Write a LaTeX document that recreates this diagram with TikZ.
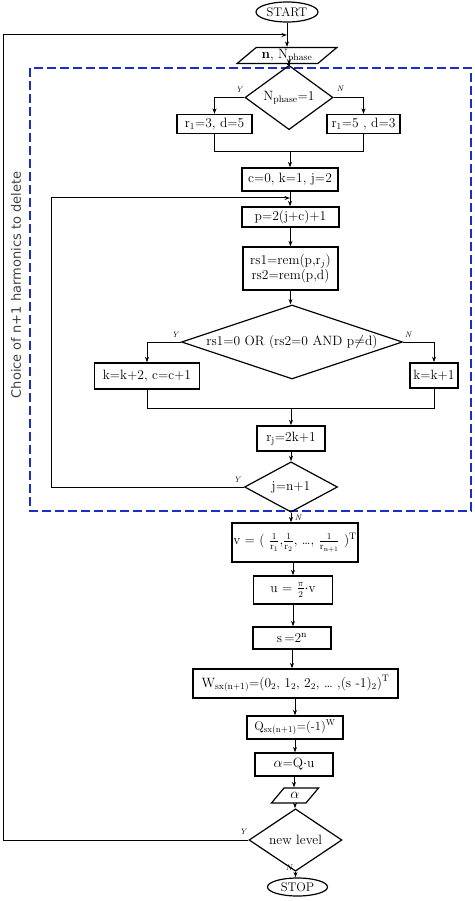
\documentclass[tikz,border=0pt]{standalone}
\usepackage{fontspec}
\newfontfamily\labelsans{DejaVu Sans}
\usetikzlibrary{shapes.geometric,arrows.meta}
\definecolor{dashblue}{RGB}{25,45,200}
\begin{document}
\begin{tikzpicture}[x=1pt,y=-1pt,
  every node/.style={font=\fontsize{13.5}{15}\selectfont},
  box/.style={draw,line width=1.3pt,rectangle,inner sep=1pt,align=center},
  dec/.style={draw,line width=1.2pt,diamond,inner sep=0pt},
  io/.style={draw,line width=1.2pt,trapezium,trapezium left angle=40,trapezium right angle=140,inner sep=0pt},
  term/.style={draw,line width=1.2pt,ellipse,inner sep=0pt,font=\fontsize{12.5}{14}\selectfont},
  flow/.style={line width=1pt,-{Stealth[length=5.5pt,width=4pt]}},
  conn/.style={line width=1pt},
  yn/.style={font=\itshape\fontsize{8}{9}\selectfont,inner sep=0pt}]
\useasboundingbox (0,0) rectangle (474,901);
% dashed frame and its label
\draw[dashblue,line width=1.6pt,dash pattern=on 9pt off 4pt] (30,68) rectangle (471,511);
\node[rotate=90,font=\labelsans\fontsize{13}{15}\selectfont,text=black!75] (lbl) at (16,285) {Choice of n+1 harmonics to delete};
% nodes
\node[term,minimum width=62,minimum height=20] (start) at (287,12) {START};
\node[io,minimum width=100,minimum height=15] (in1) at (287,55.5) {\textbf{n}, N$_{\mathrm{phase}}$};
\node[dec,minimum width=88,minimum height=35] (d1) at (289,97.5) {N$_{\mathrm{phase}}$=1};
\node[box,minimum width=75,minimum height=19] (b1) at (214.5,124) {r$_1$=3,\ d=5};
\node[box,minimum width=73,minimum height=19] (b2) at (363.5,124) {r$_1$=5 , d=3};
\node[box,minimum width=96,minimum height=23] (b3) at (290,179.5) {c=0, k=1, j=2};
\node[box,minimum width=97,minimum height=20] (b4) at (290.5,217) {p=2(j+c)+1};
\node[box,minimum width=95,minimum height=43] (b5) at (290.5,268.5) {rs1=rem(p,r$_j$)\\rs2=rem(p,d)};
\node[dec,minimum width=221,minimum height=74,shape aspect=3] (d2) at (292,342) {rs1=0 OR (rs2=0 AND p$\neq$d)};
\node[box,minimum width=105,minimum height=26] (b6) at (147,376) {k=k+2,\ c=c+1};
\node[box,minimum width=48,minimum height=25,line width=1.7pt] (b7) at (434,375.5) {k=k+1};
\node[box,minimum width=68,minimum height=25,line width=1.6pt] (b8) at (291,438.5) {r$_\mathrm{j}$=2k+1};
\node[dec,minimum width=93,minimum height=40] (d3) at (291,487) {j=n+1};
\node[box,minimum width=126,minimum height=39] (b9) at (295,542.5) {v = ( $\frac{1}{\mathrm{r}_1}$,$\frac{1}{\mathrm{r}_2}$, \dots , $\frac{1}{\mathrm{r}_{\mathrm{n+1}}}$ )$^{\mathrm{T}}$};
\node[box,minimum width=79,minimum height=28] (b10) at (293,590) {u = $\frac{\pi}{2}\cdot$v};
\node[box,minimum width=78,minimum height=22] (b11) at (292,638) {s\,=2$^{\mathrm{n}}$};
\node[box,minimum width=205,minimum height=29] (b12) at (295.5,683.5) {W$_{\mathrm{sx(n+1)}}$=(0$_2$, 1$_2$, 2$_2$, \dots\ ,(s -1)$_2$)$^{\mathrm{T}}$};
\node[box,minimum width=96,minimum height=23,font=\fontsize{12.5}{14}\selectfont] (b13) at (295,727.5) {Q$_{\mathrm{sx(n+1)}}$=(-1)$^{\mathrm{W}}$};
\node[box,minimum width=78,minimum height=23] (b14) at (294,764.5) {$\alpha$=Q$\cdot$u};
\node[io,minimum width=46,minimum height=15,trapezium left angle=50,trapezium right angle=130] (in2) at (295,795.5) {$\alpha$};
\node[dec,minimum width=93,minimum height=38] (d4) at (295.5,840) {new level};
\node[term,minimum width=60,minimum height=18] (stop) at (297.5,887) {STOP};
% Y / N labels
\node[yn] (y1) at (239,90) {Y};
\node[yn] (n1) at (340,89) {N};
\node[yn] (y2) at (175,335) {Y};
\node[yn] (n2) at (408,335) {N};
\node[yn] (y3) at (237,480) {Y};
\node[yn] (n3) at (298,518) {N};
\node[yn] (y4) at (243,832) {Y};
\node[yn] (n4) at (289,868) {N};
% coordinates for joins
\coordinate (op) at (287,35);
\coordinate (m1) at (290,152);
\coordinate (lp) at (290,198);
\coordinate (m2) at (291,408);
% connectors
\draw[flow] (start.south) -- (start.south |- in1.north);
\draw[flow] (d4.west) -| (3,35) -- (op);
\draw[flow] (in1.south) -- (in1.south -| d1.north) -- (d1.north);
\draw[flow] (d1.west) -| (b1.north);
\draw[flow] (d1.east) -| (b2.north);
\draw[conn] (b1.south) |- (b2.south |- m1) -- (b2.south);
\draw[flow] (m1) -- (m1 |- b3.north);
\draw[flow] (b3.south) -- (b3.south |- b4.north);
\draw[flow] (d3.west) -| (51,198) -- (lp);
\draw[flow] (b4.south) -- (b4.south |- b5.north);
\draw[flow] (b5.south) -- (b5.south |- d2.north);
\draw[flow] (d2.west) -| (b6.north);
\draw[flow] (d2.east) -| (b7.north);
\draw[conn] (b6.south) |- (b7.south |- m2) -- (b7.south);
\draw[flow] (m2) -- (m2 |- b8.north);
\draw[flow] (b8.south) -- (b8.south |- d3.north);
\draw[flow] (d3.south) -- (d3.south |- b9.north);
\draw[flow] (b10.north |- b9.south) -- (b10.north);
\draw[flow] (b10.south) -- (b10.south |- b11.north);
\draw[flow] (b11.south) -- (b11.south |- b12.north);
\draw[flow] (b13.north |- b12.south) -- (b13.north);
\draw[flow] (b13.south) -- (b13.south |- b14.north);
\draw[flow] (b14.south) -- (b14.south |- in2.north);
\draw[flow] (in2.south) -- (in2.south |- d4.north);
\draw[flow] (d4.south) -- (d4.south |- stop.north);
\end{tikzpicture}
\end{document}
